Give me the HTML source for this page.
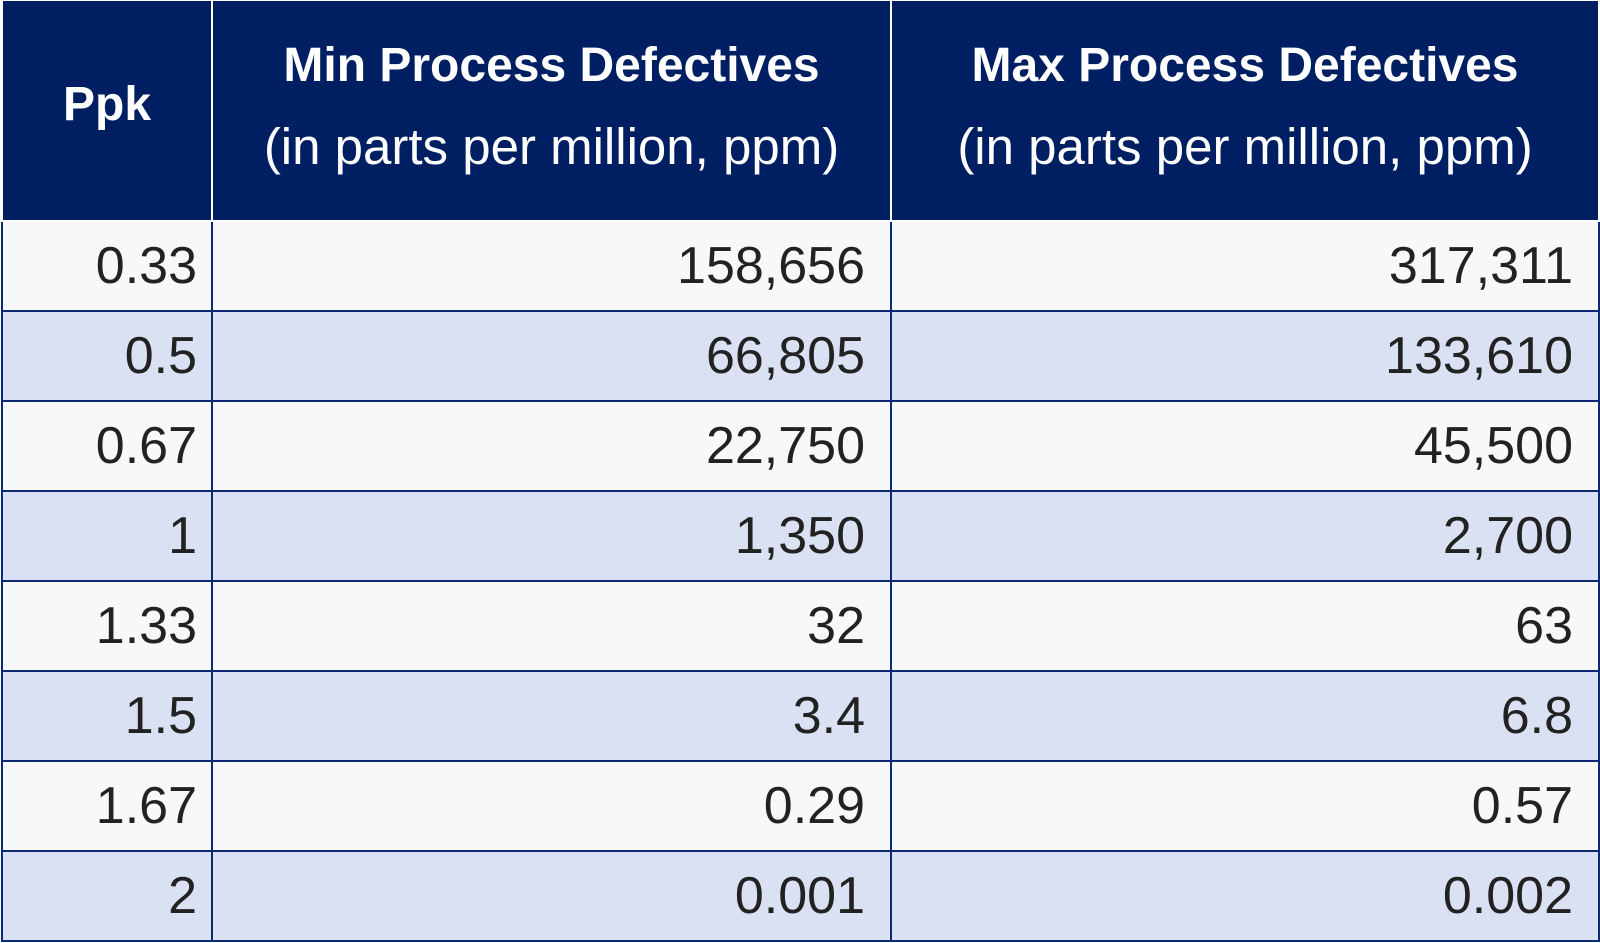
<!DOCTYPE html>
<html><head><meta charset="utf-8"><style>
html,body{margin:0;padding:0;background:#fff;}
body{width:1600px;height:943px;overflow:hidden;font-family:"Liberation Sans",sans-serif;}
table{border-collapse:collapse;position:absolute;left:1px;top:1px;width:1597px;table-layout:fixed;}
th{background:#001f63;color:#fff;height:219px;border:2px solid #fff;border-top:none;padding:0;text-align:center;vertical-align:middle;}
th .t{font-weight:bold;font-size:48px;display:block;margin-top:-6px;line-height:1.1;}
th .s{font-weight:normal;font-size:51px;display:block;margin-top:26px;line-height:1.1;}
td{height:88px;border:2px solid #0a2a72;text-align:right;font-size:52px;color:#222;padding:0 25px 0 0;vertical-align:middle;}
td:first-child{padding-right:14px;}
tr.a td{background:#f7f8fa;}
tr.b td{background:#dae1f2;}
</style></head><body>
<table>
<colgroup><col style="width:210px"><col style="width:679px"><col style="width:708px"></colgroup>
<thead><tr>
<th><span class="t" style="margin-top:-10px">Ppk</span></th>
<th><span class="t">Min Process Defectives</span><span class="s">(in parts per million, ppm)</span></th>
<th><span class="t">Max Process Defectives</span><span class="s">(in parts per million, ppm)</span></th>
</tr></thead>
<tbody>
<tr class="a"><td>0.33</td><td>158,656</td><td>317,311</td></tr>
<tr class="b"><td>0.5</td><td>66,805</td><td>133,610</td></tr>
<tr class="a"><td>0.67</td><td>22,750</td><td>45,500</td></tr>
<tr class="b"><td>1</td><td>1,350</td><td>2,700</td></tr>
<tr class="a"><td>1.33</td><td>32</td><td>63</td></tr>
<tr class="b"><td>1.5</td><td>3.4</td><td>6.8</td></tr>
<tr class="a"><td>1.67</td><td>0.29</td><td>0.57</td></tr>
<tr class="b"><td>2</td><td>0.001</td><td>0.002</td></tr>
</tbody></table>
</body></html>
